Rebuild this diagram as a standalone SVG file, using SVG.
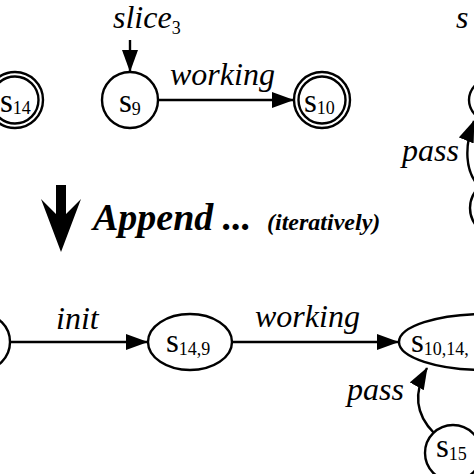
<svg xmlns="http://www.w3.org/2000/svg" width="474" height="474" viewBox="0 0 474 474">
<defs>
<style>
.n{fill:#fff;stroke:#000;stroke-width:2.4}
.e{fill:none;stroke:#000;stroke-width:2.4}
.st{font-family:"Liberation Serif","Times New Roman",serif;font-size:33px;fill:#000}
.sub{font-size:18px}
.lb{font-family:"Liberation Serif","Times New Roman",serif;font-size:32px;font-style:italic;fill:#000}
.bi{font-family:"Liberation Serif","Times New Roman",serif;font-weight:bold;font-style:italic;fill:#000}
</style>
<marker id="ah" markerUnits="userSpaceOnUse" markerWidth="22" markerHeight="16" refX="21" refY="8" orient="auto">
<path d="M0,0 L22,8 L0,16 Z" fill="#000"/>
</marker>
</defs>
<rect width="474" height="474" fill="#fff"/>
<g id="connectors">
<path class="e" d="M130,40 L130,71" marker-end="url(#ah)"/>
<path class="e" d="M158,100 L293,100" marker-end="url(#ah)"/>
<path class="e" d="M479,186 C465,172 464,146 474,121" marker-end="url(#ah)"/>
<path class="e" d="M10,342 L147,342" marker-end="url(#ah)"/>
<path class="e" d="M232,342 L398,342" marker-end="url(#ah)"/>
<path class="e" d="M434,433 C416,415 413,393 427,368" marker-end="url(#ah)"/>
</g>
<g id="labels">
<text class="lb" x="113" y="28" font-size="30">slice<tspan class="sub" font-style="normal" dy="6">3</tspan></text>
<text class="lb" x="170" y="85">working</text>
<text class="lb" x="456" y="28" font-size="30">s</text>
<text class="lb" x="402" y="161">pass</text>
<text class="lb" x="56" y="329">init</text>
<text class="lb" x="255" y="327">working</text>
<text class="lb" x="347" y="400">pass</text>
</g>
<g id="append">
<path d="M56,185 L66,185 L66,214 L81,199 L61,252 L41,199 L56,214 Z" fill="#000"/>
<text class="bi" x="93" y="230" font-size="38">Append ...</text>
<text class="bi" x="267" y="230" font-size="24">(iteratively)</text>
</g>
<g id="s14">
<circle class="n" cx="15" cy="100" r="28"/>
<circle class="n" cx="15" cy="100" r="23.5"/>
<text class="st" x="0" y="112">s<tspan class="sub" dy="2">14</tspan></text>
</g>
<g id="s9">
<circle class="n" cx="130" cy="100" r="28"/>
<text class="st" x="119" y="112">s<tspan class="sub" dy="3">9</tspan></text>
</g>
<g id="s10">
<circle class="n" cx="322" cy="100" r="28"/>
<circle class="n" cx="322" cy="100" r="23.5"/>
<text class="st" x="304" y="112">s<tspan class="sub" dy="2">10</tspan></text>
</g>
<g id="right-top">
<ellipse class="n" cx="511" cy="100" rx="42" ry="28"/>
</g>
<g id="right-bottom">
<circle class="n" cx="498" cy="208" r="28"/>
</g>
<g id="left-node">
<circle class="n" cx="-18" cy="342" r="28"/>
</g>
<g id="s14_9">
<ellipse class="n" cx="190" cy="342" rx="42" ry="28"/>
<text class="st" x="166" y="352">s<tspan class="sub" dy="3">14,9</tspan></text>
</g>
<g id="s10_14">
<ellipse class="n" cx="485" cy="342" rx="86" ry="28"/>
<text class="st" x="411" y="352">s<tspan class="sub" dy="3">10,14,</tspan></text>
</g>
<g id="s15">
<circle class="n" cx="453" cy="453" r="28"/>
<text class="st" x="436" y="457">s<tspan class="sub" dy="3">15</tspan></text>
</g>
</svg>
